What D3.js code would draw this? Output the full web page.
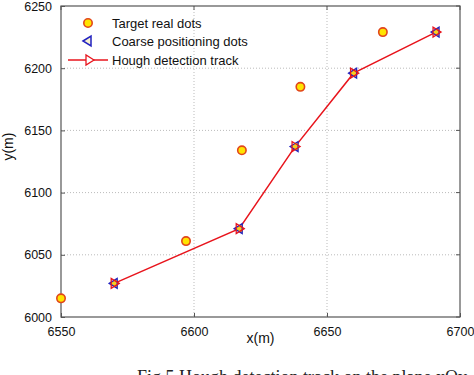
<!DOCTYPE html>
<html>
<head>
<meta charset="utf-8">
<script src="https://cdn.jsdelivr.net/npm/d3@7"></script>
<style>
  body { margin: 0; background: #fff; }
  svg { display: block; }
</style>
</head>
<body>
<div id="chart"></div>
<script>
'use strict';

// target real dots
var realX = [6550, 6597, 6618, 6640, 6671];
var realY = [6015, 6061, 6134, 6185, 6229];
// coarse positioning dots / hough track
var trackX = [6570, 6617, 6638, 6660, 6691];
var trackY = [6027, 6071, 6137, 6196, 6229];

var xTicks = [6550, 6600, 6650, 6700];
var yTicks = [6000, 6050, 6100, 6150, 6200, 6250];
var legendLabels = ['Target real dots', 'Coarse positioning dots', 'Hough detection track'];

var W = 474, H = 375;
var margin = {top: 6, right: 14, bottom: 58, left: 61};
var width = W - margin.left - margin.right;
var height = H - margin.top - margin.bottom;

var svg = d3.select('#chart').append('svg')
	.attr('width', W)
	.attr('height', H);

var g = svg.append('g')
	.attr('transform', 'translate(' + margin.left + ',' + margin.top + ')');

var x = d3.scaleLinear().domain([6550, 6700]).range([0, width]);
var y = d3.scaleLinear().domain([6000, 6250]).range([height, 0]);

// grid
g.append('g').selectAll('line').data(xTicks.slice(1, -1)).enter().append('line')
	.attr('x1', function(d){ return x(d); })
	.attr('x2', function(d){ return x(d); })
	.attr('y1', 0).attr('y2', height)
	.attr('stroke', '#bbb').attr('stroke-dasharray', '1,2');
g.append('g').selectAll('line').data(yTicks.slice(1, -1)).enter().append('line')
	.attr('y1', function(d){ return y(d); })
	.attr('y2', function(d){ return y(d); })
	.attr('x1', 0).attr('x2', width)
	.attr('stroke', '#bbb').attr('stroke-dasharray', '1,2');

var font = 'Arial, "Liberation Sans", sans-serif';

var xAxis = g.append('g')
	.attr('transform', 'translate(0,' + height + ')')
	.call(d3.axisBottom(x).tickValues(xTicks).tickFormat(d3.format('d')).tickSizeInner(-4).tickSizeOuter(0).tickPadding(10));
var yAxis = g.append('g')
	.call(d3.axisLeft(y).tickValues(yTicks).tickFormat(d3.format('d')).tickSizeInner(-4).tickSizeOuter(0).tickPadding(9));

[xAxis, yAxis].forEach(function(a){
	a.select('.domain').remove();
	a.selectAll('line').attr('stroke', '#555');
	a.selectAll('text').attr('font-family', font).attr('font-size', 12.5).attr('fill', '#111');
});

// top / right ticks
g.append('g').selectAll('line').data(xTicks).enter().append('line')
	.attr('x1', function(d){ return x(d); }).attr('x2', function(d){ return x(d); })
	.attr('y1', 0).attr('y2', 4).attr('stroke', '#555');
g.append('g').selectAll('line').data(yTicks).enter().append('line')
	.attr('y1', function(d){ return y(d); }).attr('y2', function(d){ return y(d); })
	.attr('x1', width).attr('x2', width - 4).attr('stroke', '#555');

g.append('rect')
	.attr('width', width).attr('height', height)
	.attr('fill', 'none').attr('stroke', '#555').attr('stroke-width', 1.2);

// marker shapes
function triPath(dir, r){
	// dir = 1 right-pointing, -1 left-pointing
	return 'M' + (dir * r) + ',0L' + (-dir * r * 0.6) + ',' + (-r) + 'L' + (-dir * r * 0.6) + ',' + r + 'Z';
}

var track = trackX.map(function(d, i){ return [d, trackY[i]]; });
var real = realX.map(function(d, i){ return [d, realY[i]]; });

g.append('path')
	.datum(track)
	.attr('d', d3.line().x(function(d){ return x(d[0]); }).y(function(d){ return y(d[1]); }))
	.attr('fill', 'none').attr('stroke', '#e8141c').attr('stroke-width', 1.5);

g.append('g').selectAll('path').data(track).enter().append('path')
	.attr('transform', function(d){ return 'translate(' + x(d[0]) + ',' + y(d[1]) + ')'; })
	.attr('d', triPath(-1, 5))
	.attr('fill', '#f5d020').attr('stroke', '#2222c0').attr('stroke-width', 1.3);

g.append('g').selectAll('path').data(track).enter().append('path')
	.attr('transform', function(d){ return 'translate(' + x(d[0]) + ',' + y(d[1]) + ')'; })
	.attr('d', triPath(1, 5))
	.attr('fill', 'none').attr('stroke', '#e8141c').attr('stroke-width', 1.3);

g.append('g').selectAll('circle').data(real).enter().append('circle')
	.attr('cx', function(d){ return x(d[0]); })
	.attr('cy', function(d){ return y(d[1]); })
	.attr('r', 4.2)
	.attr('fill', '#ffe400').attr('stroke', '#e2461a').attr('stroke-width', 1.6);

// legend
var leg = svg.append('g');
leg.append('circle').attr('cx', 88).attr('cy', 23).attr('r', 4.2)
	.attr('fill', '#ffe400').attr('stroke', '#e2461a').attr('stroke-width', 1.6);
leg.append('path').attr('transform', 'translate(88,41)').attr('d', triPath(-1, 5))
	.attr('fill', '#f8f2d0').attr('stroke', '#2222c0').attr('stroke-width', 1.5);
leg.append('line').attr('x1', 68).attr('x2', 108).attr('y1', 60).attr('y2', 60)
	.attr('stroke', '#e8141c').attr('stroke-width', 1.3);
leg.append('path').attr('transform', 'translate(89,60)').attr('d', triPath(1, 5))
	.attr('fill', '#fff').attr('stroke', '#e8141c').attr('stroke-width', 1.3);
leg.selectAll('text').data(legendLabels).enter().append('text')
	.attr('x', 112)
	.attr('y', function(d, i){ return 23 + i * 18.5; })
	.attr('dy', '0.35em')
	.attr('font-family', font).attr('font-size', 13)
	.attr('fill', '#111')
	.text(function(d){ return d; });

// axis titles
svg.append('text')
	.attr('x', margin.left + x(6625)).attr('y', 343)
	.attr('text-anchor', 'middle')
	.attr('font-family', font).attr('font-size', 14).attr('fill', '#111')
	.text('x(m)');
svg.append('text')
	.attr('transform', 'translate(13,' + (margin.top + y(6137)) + ') rotate(-90)')
	.attr('text-anchor', 'middle')
	.attr('font-family', font).attr('font-size', 14).attr('fill', '#111')
	.text('y(m)');

// caption, cut by the bottom edge as in the source
svg.append('text')
	.attr('x', 137).attr('y', 383)
	.attr('font-family', '"Liberation Serif", "DejaVu Serif", serif').attr('font-size', 18).attr('fill', '#222')
	.text('Fig.5 Hough detection track on the plane xOy');
</script>
</body>
</html>
